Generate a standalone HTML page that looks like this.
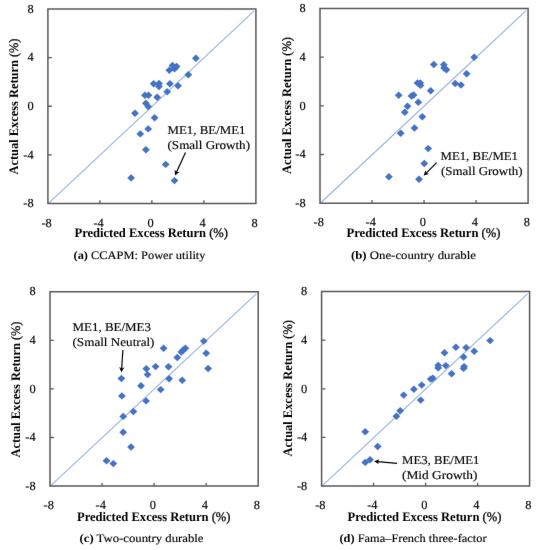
<!DOCTYPE html>
<html><head><meta charset="utf-8"><style>
html,body{margin:0;padding:0;background:#fff;}
body{width:542px;height:550px;overflow:hidden;}
svg{display:block;}
text{font-family:"Liberation Serif", serif;fill:#000;text-rendering:geometricPrecision;stroke:#000;stroke-width:0.15;}
[font-weight=bold]{stroke-width:0;}
.n{stroke-width:0.3;}
</style></head><body>
<svg width="542" height="550" viewBox="0 0 542 550">
<defs><filter id="soft" x="0" y="0" width="542" height="550" filterUnits="userSpaceOnUse" color-interpolation-filters="sRGB"><feConvolveMatrix order="3" kernelMatrix="0.00276 0.04704 0.00276 0.04704 0.80077 0.04704 0.00276 0.04704 0.00276" divisor="1" edgeMode="none"/></filter></defs>
<rect width="542" height="550" fill="#fff"/>
<g filter="url(#soft)">
<g id="pa"><line x1="47.9" y1="203.8" x2="253.9" y2="11.17" stroke="#93aedd" stroke-width="1.05"/>
<path d="M47.9 9H255.9V203.5H47.9Z" fill="none" stroke="#595959" stroke-width="1.5"/>
<path d="M99.9 203.5v-3.2M47.9 57.62h3.9" stroke="#595959" stroke-width="1.3"/>
<path d="M151.9 203.5v-3.2M47.9 106.25h3.9" stroke="#595959" stroke-width="1.3"/>
<path d="M203.9 203.5v-3.2M47.9 154.88h3.9" stroke="#595959" stroke-width="1.3"/>
<text x="33.6" y="12.7" text-anchor="end" font-size="12.4">8</text>
<text x="33.6" y="61.33" text-anchor="end" font-size="12.4">4</text>
<text x="33.6" y="109.95" text-anchor="end" font-size="12.4">0</text>
<text x="33.6" y="158.57" text-anchor="end" font-size="12.4">-4</text>
<text x="33.6" y="207.2" text-anchor="end" font-size="12.4">-8</text>
<text x="46.6" y="226.6" text-anchor="middle" font-size="12.4">-8</text>
<text x="98.6" y="226.6" text-anchor="middle" font-size="12.4">-4</text>
<text x="150.6" y="226.6" text-anchor="middle" font-size="12.4">0</text>
<text x="202.6" y="226.6" text-anchor="middle" font-size="12.4">4</text>
<text x="254.6" y="226.6" text-anchor="middle" font-size="12.4">8</text>
<path d="M195.9 54.6L199.8 58.3L195.9 62L192 58.3Z" fill="#4472c4"/>
<path d="M172.5 61.8L176.4 65.5L172.5 69.2L168.6 65.5Z" fill="#4472c4"/>
<path d="M176.6 62.8L180.5 66.5L176.6 70.2L172.7 66.5Z" fill="#4472c4"/>
<path d="M174.5 65.1L178.4 68.8L174.5 72.5L170.6 68.8Z" fill="#4472c4"/>
<path d="M169.3 66.6L173.2 70.3L169.3 74L165.4 70.3Z" fill="#4472c4"/>
<path d="M188.3 71.1L192.2 74.8L188.3 78.5L184.4 74.8Z" fill="#4472c4"/>
<path d="M153.7 80L157.6 83.7L153.7 87.4L149.8 83.7Z" fill="#4472c4"/>
<path d="M159 79.8L162.9 83.5L159 87.2L155.1 83.5Z" fill="#4472c4"/>
<path d="M159 82.9L162.9 86.6L159 90.3L155.1 86.6Z" fill="#4472c4"/>
<path d="M169.9 80.1L173.8 83.8L169.9 87.5L166 83.8Z" fill="#4472c4"/>
<path d="M178 82L181.9 85.7L178 89.4L174.1 85.7Z" fill="#4472c4"/>
<path d="M167.2 88.1L171.1 91.8L167.2 95.5L163.3 91.8Z" fill="#4472c4"/>
<path d="M144.9 91.6L148.8 95.3L144.9 99L141 95.3Z" fill="#4472c4"/>
<path d="M148.5 91.6L152.4 95.3L148.5 99L144.6 95.3Z" fill="#4472c4"/>
<path d="M157.2 93.6L161.1 97.3L157.2 101L153.3 97.3Z" fill="#4472c4"/>
<path d="M145.9 99.5L149.8 103.2L145.9 106.9L142 103.2Z" fill="#4472c4"/>
<path d="M148.2 102.9L152.1 106.6L148.2 110.3L144.3 106.6Z" fill="#4472c4"/>
<path d="M135 109.5L138.9 113.2L135 116.9L131.1 113.2Z" fill="#4472c4"/>
<path d="M154.6 114.1L158.5 117.8L154.6 121.5L150.7 117.8Z" fill="#4472c4"/>
<path d="M148.2 125.2L152.1 128.9L148.2 132.6L144.3 128.9Z" fill="#4472c4"/>
<path d="M140.3 130.2L144.2 133.9L140.3 137.6L136.4 133.9Z" fill="#4472c4"/>
<path d="M145.9 146.1L149.8 149.8L145.9 153.5L142 149.8Z" fill="#4472c4"/>
<path d="M165.7 160.7L169.6 164.4L165.7 168.1L161.8 164.4Z" fill="#4472c4"/>
<path d="M131.1 174.2L135 177.9L131.1 181.6L127.2 177.9Z" fill="#4472c4"/>
<path d="M174.5 176.9L178.4 180.6L174.5 184.3L170.6 180.6Z" fill="#4472c4"/>
<text id="a_ylab" transform="translate(17.7,174.5) rotate(-90)" x="0" y="0" font-size="13" font-weight="bold" textLength="136" lengthAdjust="spacingAndGlyphs">Actual Excess Return <tspan font-weight="normal" class="n">(%)</tspan></text>
<text id="a_xlab" x="74.5" y="237.4" font-size="13" font-weight="bold" textLength="153.5" lengthAdjust="spacingAndGlyphs">Predicted Excess Return <tspan font-weight="normal" class="n">(%)</tspan></text>
<text id="a_cap" x="73.5" y="259.2" font-size="11.5" textLength="132" lengthAdjust="spacingAndGlyphs"><tspan font-weight="bold">(a)</tspan> CCAPM: Power utility</text>
<text id="a_ann0" x="167.5" y="134.1" font-size="12" textLength="78" lengthAdjust="spacingAndGlyphs">ME1, BE/ME1</text>
<text id="a_ann1" x="167.5" y="149" font-size="12" textLength="82.5" lengthAdjust="spacingAndGlyphs">(Small Growth)</text>
<line x1="185.5" y1="152.4" x2="176.45" y2="172.22" stroke="#000" stroke-width="1.2"/>
<path d="M175 175.4L174.71 169.77L176.58 171.94L179.44 171.93Z" fill="#000"/></g>
<g id="pb"><line x1="320" y1="203.5" x2="526.1" y2="10.67" stroke="#93aedd" stroke-width="1.05"/>
<path d="M320 8.5H528.1V203.2H320Z" fill="none" stroke="#595959" stroke-width="1.5"/>
<path d="M372.02 203.2v-3.2M320 57.17h3.9" stroke="#595959" stroke-width="1.3"/>
<path d="M424.05 203.2v-3.2M320 105.85h3.9" stroke="#595959" stroke-width="1.3"/>
<path d="M476.08 203.2v-3.2M320 154.52h3.9" stroke="#595959" stroke-width="1.3"/>
<text x="305.7" y="12.2" text-anchor="end" font-size="12.4">8</text>
<text x="305.7" y="60.88" text-anchor="end" font-size="12.4">4</text>
<text x="305.7" y="109.55" text-anchor="end" font-size="12.4">0</text>
<text x="305.7" y="158.22" text-anchor="end" font-size="12.4">-4</text>
<text x="305.7" y="206.9" text-anchor="end" font-size="12.4">-8</text>
<text x="318.7" y="226.3" text-anchor="middle" font-size="12.4">-8</text>
<text x="370.72" y="226.3" text-anchor="middle" font-size="12.4">-4</text>
<text x="422.75" y="226.3" text-anchor="middle" font-size="12.4">0</text>
<text x="474.78" y="226.3" text-anchor="middle" font-size="12.4">4</text>
<text x="526.8" y="226.3" text-anchor="middle" font-size="12.4">8</text>
<path d="M474.2 53.6L478.1 57.3L474.2 61L470.3 57.3Z" fill="#4472c4"/>
<path d="M433.8 60.8L437.7 64.5L433.8 68.2L429.9 64.5Z" fill="#4472c4"/>
<path d="M443.8 61.1L447.7 64.8L443.8 68.5L439.9 64.8Z" fill="#4472c4"/>
<path d="M444.1 64.4L448 68.1L444.1 71.8L440.2 68.1Z" fill="#4472c4"/>
<path d="M446.4 66.1L450.3 69.8L446.4 73.5L442.5 69.8Z" fill="#4472c4"/>
<path d="M466.6 70.1L470.5 73.8L466.6 77.5L462.7 73.8Z" fill="#4472c4"/>
<path d="M455.2 79.8L459.1 83.5L455.2 87.2L451.3 83.5Z" fill="#4472c4"/>
<path d="M461 81.3L464.9 85L461 88.7L457.1 85Z" fill="#4472c4"/>
<path d="M430.7 87L434.6 90.7L430.7 94.4L426.8 90.7Z" fill="#4472c4"/>
<path d="M417.5 79.2L421.4 82.9L417.5 86.6L413.6 82.9Z" fill="#4472c4"/>
<path d="M420.2 79.2L424.1 82.9L420.2 86.6L416.3 82.9Z" fill="#4472c4"/>
<path d="M420.5 81.7L424.4 85.4L420.5 89.1L416.6 85.4Z" fill="#4472c4"/>
<path d="M398.7 91.6L402.6 95.3L398.7 99L394.8 95.3Z" fill="#4472c4"/>
<path d="M411.5 92.3L415.4 96L411.5 99.7L407.6 96Z" fill="#4472c4"/>
<path d="M413.6 91.3L417.5 95L413.6 98.7L409.7 95Z" fill="#4472c4"/>
<path d="M418.3 98.5L422.2 102.2L418.3 105.9L414.4 102.2Z" fill="#4472c4"/>
<path d="M407.5 102.6L411.4 106.3L407.5 110L403.6 106.3Z" fill="#4472c4"/>
<path d="M404.8 108.6L408.7 112.3L404.8 116L400.9 112.3Z" fill="#4472c4"/>
<path d="M422.3 113.1L426.2 116.8L422.3 120.5L418.4 116.8Z" fill="#4472c4"/>
<path d="M414.5 124.3L418.4 128L414.5 131.7L410.6 128Z" fill="#4472c4"/>
<path d="M400.7 129.5L404.6 133.2L400.7 136.9L396.8 133.2Z" fill="#4472c4"/>
<path d="M428.2 144.9L432.1 148.6L428.2 152.3L424.3 148.6Z" fill="#4472c4"/>
<path d="M424.3 159.8L428.2 163.5L424.3 167.2L420.4 163.5Z" fill="#4472c4"/>
<path d="M388.9 173L392.8 176.7L388.9 180.4L385 176.7Z" fill="#4472c4"/>
<path d="M419 175.6L422.9 179.3L419 183L415.1 179.3Z" fill="#4472c4"/>
<text id="b_ylab" transform="translate(290.6,174) rotate(-90)" x="0" y="0" font-size="13" font-weight="bold" textLength="137" lengthAdjust="spacingAndGlyphs">Actual Excess Return <tspan font-weight="normal" class="n">(%)</tspan></text>
<text id="b_xlab" x="346.5" y="237.4" font-size="13" font-weight="bold" textLength="154" lengthAdjust="spacingAndGlyphs">Predicted Excess Return <tspan font-weight="normal" class="n">(%)</tspan></text>
<text id="b_cap" x="351" y="259.1" font-size="11.5" textLength="125" lengthAdjust="spacingAndGlyphs"><tspan font-weight="bold">(b)</tspan> One-country durable</text>
<text id="b_ann0" x="440.5" y="160.4" font-size="12" textLength="77.5" lengthAdjust="spacingAndGlyphs">ME1, BE/ME1</text>
<text id="b_ann1" x="441" y="175.2" font-size="12" textLength="81.5" lengthAdjust="spacingAndGlyphs">(Small Growth)</text>
<line x1="436.7" y1="162.6" x2="426.17" y2="173.13" stroke="#000" stroke-width="1.2"/>
<path d="M423.7 175.6L425.4 170.23L426.39 172.91L429.07 173.9Z" fill="#000"/></g>
<g id="pc"><line x1="50" y1="486.4" x2="256.2" y2="293.87" stroke="#93aedd" stroke-width="1.05"/>
<path d="M50 291.7H258.2V486.1H50Z" fill="none" stroke="#595959" stroke-width="1.5"/>
<path d="M102.05 486.1v-3.2M50 340.3h3.9" stroke="#595959" stroke-width="1.3"/>
<path d="M154.1 486.1v-3.2M50 388.9h3.9" stroke="#595959" stroke-width="1.3"/>
<path d="M206.15 486.1v-3.2M50 437.5h3.9" stroke="#595959" stroke-width="1.3"/>
<text x="35.7" y="295.4" text-anchor="end" font-size="12.4">8</text>
<text x="35.7" y="344" text-anchor="end" font-size="12.4">4</text>
<text x="35.7" y="392.6" text-anchor="end" font-size="12.4">0</text>
<text x="35.7" y="441.2" text-anchor="end" font-size="12.4">-4</text>
<text x="35.7" y="489.8" text-anchor="end" font-size="12.4">-8</text>
<text x="48.7" y="509.2" text-anchor="middle" font-size="12.4">-8</text>
<text x="100.75" y="509.2" text-anchor="middle" font-size="12.4">-4</text>
<text x="152.8" y="509.2" text-anchor="middle" font-size="12.4">0</text>
<text x="204.85" y="509.2" text-anchor="middle" font-size="12.4">4</text>
<text x="256.9" y="509.2" text-anchor="middle" font-size="12.4">8</text>
<path d="M203.8 337.4L207.7 341.1L203.8 344.8L199.9 341.1Z" fill="#4472c4"/>
<path d="M163.6 344.6L167.5 348.3L163.6 352L159.7 348.3Z" fill="#4472c4"/>
<path d="M185.4 344.5L189.3 348.2L185.4 351.9L181.5 348.2Z" fill="#4472c4"/>
<path d="M183.3 346.3L187.2 350L183.3 353.7L179.4 350Z" fill="#4472c4"/>
<path d="M181.3 348.3L185.2 352L181.3 355.7L177.4 352Z" fill="#4472c4"/>
<path d="M206.2 349.6L210.1 353.3L206.2 357L202.3 353.3Z" fill="#4472c4"/>
<path d="M177.3 353.8L181.2 357.5L177.3 361.2L173.4 357.5Z" fill="#4472c4"/>
<path d="M168.5 363L172.4 366.7L168.5 370.4L164.6 366.7Z" fill="#4472c4"/>
<path d="M208.1 364.8L212 368.5L208.1 372.2L204.2 368.5Z" fill="#4472c4"/>
<path d="M155.6 362.9L159.5 366.6L155.6 370.3L151.7 366.6Z" fill="#4472c4"/>
<path d="M146.3 365.1L150.2 368.8L146.3 372.5L142.4 368.8Z" fill="#4472c4"/>
<path d="M147.6 370.9L151.5 374.6L147.6 378.3L143.7 374.6Z" fill="#4472c4"/>
<path d="M169.1 375.1L173 378.8L169.1 382.5L165.2 378.8Z" fill="#4472c4"/>
<path d="M182.2 376.5L186.1 380.2L182.2 383.9L178.3 380.2Z" fill="#4472c4"/>
<path d="M141 382.1L144.9 385.8L141 389.5L137.1 385.8Z" fill="#4472c4"/>
<path d="M160.7 385.9L164.6 389.6L160.7 393.3L156.8 389.6Z" fill="#4472c4"/>
<path d="M121.4 374.8L125.3 378.5L121.4 382.2L117.5 378.5Z" fill="#4472c4"/>
<path d="M121.9 392.2L125.8 395.9L121.9 399.6L118 395.9Z" fill="#4472c4"/>
<path d="M146.1 397.2L150 400.9L146.1 404.6L142.2 400.9Z" fill="#4472c4"/>
<path d="M133.4 407.8L137.3 411.5L133.4 415.2L129.5 411.5Z" fill="#4472c4"/>
<path d="M123.2 412.7L127.1 416.4L123.2 420.1L119.3 416.4Z" fill="#4472c4"/>
<path d="M123.2 428.5L127.1 432.2L123.2 435.9L119.3 432.2Z" fill="#4472c4"/>
<path d="M131 443.3L134.9 447L131 450.7L127.1 447Z" fill="#4472c4"/>
<path d="M106.5 457L110.4 460.7L106.5 464.4L102.6 460.7Z" fill="#4472c4"/>
<path d="M113.3 459.9L117.2 463.6L113.3 467.3L109.4 463.6Z" fill="#4472c4"/>
<text id="c_ylab" transform="translate(20.1,457.5) rotate(-90)" x="0" y="0" font-size="13" font-weight="bold" textLength="136" lengthAdjust="spacingAndGlyphs">Actual Excess Return <tspan font-weight="normal" class="n">(%)</tspan></text>
<text id="c_xlab" x="77" y="520.5" font-size="13" font-weight="bold" textLength="153.5" lengthAdjust="spacingAndGlyphs">Predicted Excess Return <tspan font-weight="normal" class="n">(%)</tspan></text>
<text id="c_cap" x="79.5" y="542.2" font-size="11.5" textLength="124" lengthAdjust="spacingAndGlyphs"><tspan font-weight="bold">(c)</tspan> Two-country durable</text>
<text id="c_ann0" x="72.5" y="330.9" font-size="12" textLength="78.5" lengthAdjust="spacingAndGlyphs">ME1, BE/ME3</text>
<text id="c_ann1" x="72.5" y="345.9" font-size="12" textLength="82" lengthAdjust="spacingAndGlyphs">(Small Neutral)</text>
<line x1="122.9" y1="350" x2="121.64" y2="368.71" stroke="#000" stroke-width="1.2"/>
<path d="M121.4 372.2L119.14 367.04L121.66 368.41L124.33 367.39Z" fill="#000"/></g>
<g id="pd"><line x1="321.6" y1="486.3" x2="527.6" y2="293.77" stroke="#93aedd" stroke-width="1.05"/>
<path d="M321.6 291.6H529.6V486H321.6Z" fill="none" stroke="#595959" stroke-width="1.5"/>
<path d="M373.6 486v-3.2M321.6 340.2h3.9" stroke="#595959" stroke-width="1.3"/>
<path d="M425.6 486v-3.2M321.6 388.8h3.9" stroke="#595959" stroke-width="1.3"/>
<path d="M477.6 486v-3.2M321.6 437.4h3.9" stroke="#595959" stroke-width="1.3"/>
<text x="307.3" y="295.3" text-anchor="end" font-size="12.4">8</text>
<text x="307.3" y="343.9" text-anchor="end" font-size="12.4">4</text>
<text x="307.3" y="392.5" text-anchor="end" font-size="12.4">0</text>
<text x="307.3" y="441.1" text-anchor="end" font-size="12.4">-4</text>
<text x="307.3" y="489.7" text-anchor="end" font-size="12.4">-8</text>
<text x="320.3" y="509.1" text-anchor="middle" font-size="12.4">-8</text>
<text x="372.3" y="509.1" text-anchor="middle" font-size="12.4">-4</text>
<text x="424.3" y="509.1" text-anchor="middle" font-size="12.4">0</text>
<text x="476.3" y="509.1" text-anchor="middle" font-size="12.4">4</text>
<text x="528.3" y="509.1" text-anchor="middle" font-size="12.4">8</text>
<path d="M490.1 336.9L494 340.6L490.1 344.3L486.2 340.6Z" fill="#4472c4"/>
<path d="M455.9 343.6L459.8 347.3L455.9 351L452 347.3Z" fill="#4472c4"/>
<path d="M466.1 343.9L470 347.6L466.1 351.3L462.2 347.6Z" fill="#4472c4"/>
<path d="M474.2 347.5L478.1 351.2L474.2 354.9L470.3 351.2Z" fill="#4472c4"/>
<path d="M444.5 349L448.4 352.7L444.5 356.4L440.6 352.7Z" fill="#4472c4"/>
<path d="M463.6 353.3L467.5 357L463.6 360.7L459.7 357Z" fill="#4472c4"/>
<path d="M438.2 361.7L442.1 365.4L438.2 369.1L434.3 365.4Z" fill="#4472c4"/>
<path d="M438.2 364.2L442.1 367.9L438.2 371.6L434.3 367.9Z" fill="#4472c4"/>
<path d="M445.8 361.9L449.7 365.6L445.8 369.3L441.9 365.6Z" fill="#4472c4"/>
<path d="M464.1 362.9L468 366.6L464.1 370.3L460.2 366.6Z" fill="#4472c4"/>
<path d="M463.6 364.7L467.5 368.4L463.6 372.1L459.7 368.4Z" fill="#4472c4"/>
<path d="M451.6 370L455.5 373.7L451.6 377.4L447.7 373.7Z" fill="#4472c4"/>
<path d="M430.7 375.4L434.6 379.1L430.7 382.8L426.8 379.1Z" fill="#4472c4"/>
<path d="M432.8 374.6L436.7 378.3L432.8 382L428.9 378.3Z" fill="#4472c4"/>
<path d="M421.7 381.4L425.6 385.1L421.7 388.8L417.8 385.1Z" fill="#4472c4"/>
<path d="M413.9 385.6L417.8 389.3L413.9 393L410 389.3Z" fill="#4472c4"/>
<path d="M403.7 391.4L407.6 395.1L403.7 398.8L399.8 395.1Z" fill="#4472c4"/>
<path d="M420.7 396.4L424.6 400.1L420.7 403.8L416.8 400.1Z" fill="#4472c4"/>
<path d="M400.2 407.1L404.1 410.8L400.2 414.5L396.3 410.8Z" fill="#4472c4"/>
<path d="M396.4 412.6L400.3 416.3L396.4 420L392.5 416.3Z" fill="#4472c4"/>
<path d="M365.2 428.1L369.1 431.8L365.2 435.5L361.3 431.8Z" fill="#4472c4"/>
<path d="M377.7 442.8L381.6 446.5L377.7 450.2L373.8 446.5Z" fill="#4472c4"/>
<path d="M370 456.1L373.9 459.8L370 463.5L366.1 459.8Z" fill="#4472c4"/>
<path d="M365.2 458.7L369.1 462.4L365.2 466.1L361.3 462.4Z" fill="#4472c4"/>
<text id="d_ylab" transform="translate(291.9,456.5) rotate(-90)" x="0" y="0" font-size="13" font-weight="bold" textLength="136.5" lengthAdjust="spacingAndGlyphs">Actual Excess Return <tspan font-weight="normal" class="n">(%)</tspan></text>
<text id="d_xlab" x="347.5" y="520.7" font-size="13" font-weight="bold" textLength="154" lengthAdjust="spacingAndGlyphs">Predicted Excess Return <tspan font-weight="normal" class="n">(%)</tspan></text>
<text id="d_cap" x="339.5" y="542.4" font-size="11.5" textLength="147" lengthAdjust="spacingAndGlyphs"><tspan font-weight="bold">(d)</tspan> Fama–French three-factor</text>
<text id="d_ann0" x="402" y="464.4" font-size="12" textLength="77.5" lengthAdjust="spacingAndGlyphs">ME3, BE/ME1</text>
<text id="d_ann1" x="402" y="479.4" font-size="12" textLength="75.5" lengthAdjust="spacingAndGlyphs">(Mid Growth)</text>
<line x1="397" y1="463.4" x2="377.59" y2="461.62" stroke="#000" stroke-width="1.2"/>
<path d="M374.1 461.3L379.32 459.17L377.88 461.65L378.84 464.35Z" fill="#000"/></g>
</g>
</svg>
</body></html>
